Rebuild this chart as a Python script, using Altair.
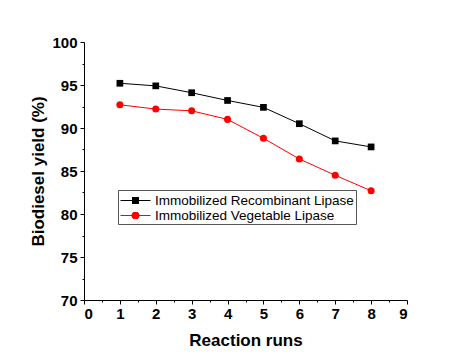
import altair as alt
import pandas as pd

runs = [1, 2, 3, 4, 5, 6, 7, 8]
recombinant = [95.2, 94.9, 94.1, 93.2, 92.4, 90.5, 88.5, 87.8]
vegetable = [92.7, 92.2, 92.0, 91.0, 88.8, 86.4, 84.5, 82.7]
series_names = ["Immobilized Recombinant Lipase", "Immobilized Vegetable Lipase"]
series_colors = ["#000000", "#ff0000"]
x_ticks = [0, 0.5, 1, 1.5, 2, 2.5, 3, 3.5, 4, 4.5, 5, 5.5, 6, 6.5, 7, 7.5, 8, 8.5, 9]
y_ticks = [70, 72.5, 75, 77.5, 80, 82.5, 85, 87.5, 90, 92.5, 95, 97.5, 100]

df = pd.DataFrame({
    "run": runs * 2,
    "yield": recombinant + vegetable,
    "series": [series_names[0]] * len(runs) + [series_names[1]] * len(runs),
})

FONT = "Liberation Sans"

x_enc = alt.X("run:Q", scale=alt.Scale(domain=[0, 9], nice=False, zero=False),
              axis=alt.Axis(title="Reaction runs", values=x_ticks,
                            labelExpr="datum.value % 1 == 0 ? format(datum.value, 'd') : ''",
                            tickSize=alt.ExprRef("datum.value % 1 == 0 ? 4 : 2"),
                            labelPadding=2, titleX=161.5, titleY=40,
                            titleBaseline="middle"))
y_enc = alt.Y("yield:Q", scale=alt.Scale(domain=[70, 100], nice=False, zero=False),
              axis=alt.Axis(title="Biodiesel yield (%)", values=y_ticks,
                            labelExpr="datum.value % 5 == 0 ? format(datum.value, 'd') : ''",
                            tickSize=alt.ExprRef("datum.value % 5 == 0 ? 4 : 2"),
                            labelPadding=3, titleX=-46, titleY=129,
                            titleAngle=270, titleBaseline="middle",
                            titleAlign="center"))

base = alt.Chart(df)

def series_layers(name, color, shape, size):
    sub = base.transform_filter(alt.datum.series == name)
    line = sub.mark_line(strokeWidth=1, color=color).encode(x=x_enc, y=y_enc)
    pts = sub.mark_point(filled=True, size=size, opacity=1, shape=shape, color=color).encode(
        x=x_enc, y=y_enc)
    return [line, pts]

layers = series_layers(series_names[0], series_colors[0], "square", 45) + \
         series_layers(series_names[1], series_colors[1], "circle", 50)

# legend symbols: a 30px line with the marker drawn by 1px strokes (symbol unit = 8px)
sq_path = ("M-1,0H2.75"
           "M0.4375,-0.375H1.3125M0.4375,-0.25H1.3125M0.4375,-0.125H1.3125"
           "M0.4375,0.125H1.3125M0.4375,0.25H1.3125M0.4375,0.375H1.3125")
ci_path = ("M-1,0H2.75"
           "M0.391,-0.125H1.359M0.442,-0.25H1.308M0.544,-0.375H1.206"
           "M0.391,0.125H1.359M0.442,0.25H1.308M0.544,0.375H1.206")

leg = alt.Legend(title=None, orient="none", legendX=34, legendY=148,
                 strokeColor="#555555", padding=2, labelLimit=400,
                 labelFont=FONT, labelFontSize=13.5, labelColor="black",
                 symbolOpacity=1, symbolSize=256, symbolStrokeWidth=1,
                 rowPadding=0, labelOffset=18)

legend_layer = base.mark_point(filled=False, size=256, opacity=0.001, strokeWidth=1).encode(
    x=x_enc, y=y_enc,
    color=alt.Color("series:N", scale=alt.Scale(domain=series_names, range=series_colors),
                    legend=leg),
    shape=alt.Shape("series:N", scale=alt.Scale(domain=series_names, range=[sq_path, ci_path]),
                    legend=leg),
)

chart = alt.layer(*layers, legend_layer).properties(
    width=323, height=258,
    autosize="none",
    background="white",
    padding={"left": 76, "top": 34, "right": 50, "bottom": 60},
).configure_view(stroke=None).configure_axis(
    labelFont=FONT, titleFont=FONT, labelFontSize=15, labelFontWeight="bold",
    titleFontSize=17, titleFontWeight="bold", labelColor="black", titleColor="black",
    domainColor="black", tickColor="black", grid=False, domainWidth=1, tickWidth=1,
)

chart.save("out.html", embed_options={"renderer": "svg", "actions": False})
